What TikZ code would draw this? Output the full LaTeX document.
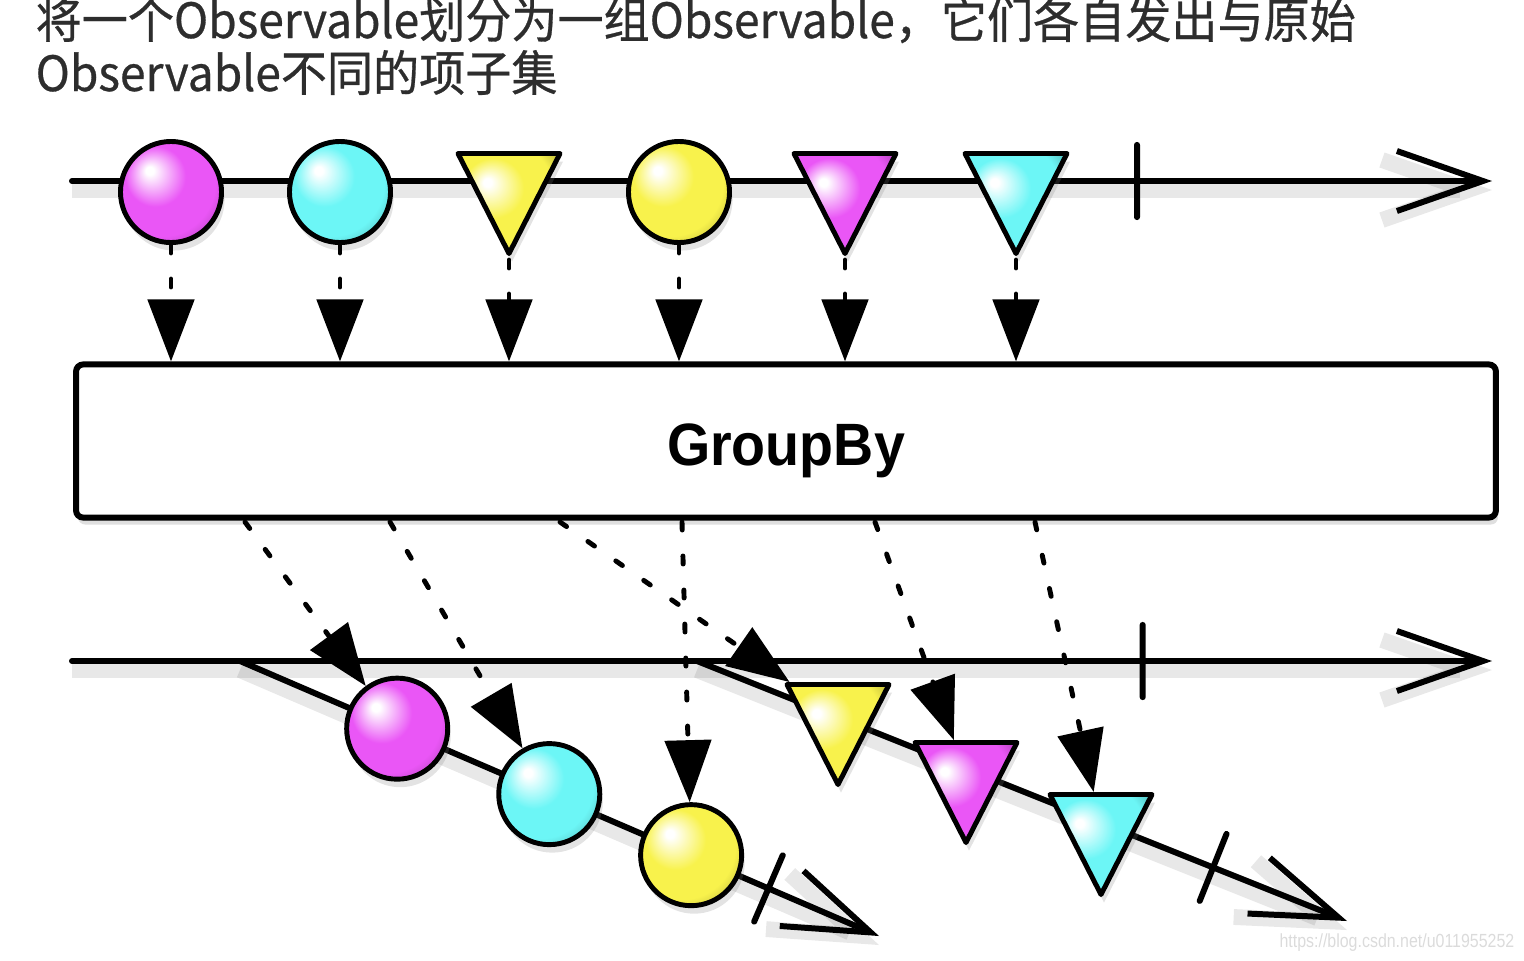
\documentclass[tikz,border=0pt]{standalone}
\usepackage{fontspec}
\newfontfamily\cjkfont[FakeBold=0.6]{Noto Sans CJK SC}
\newfontfamily\labelfont{Liberation Sans}
\usetikzlibrary{arrows.meta,shapes.geometric,shadows}

\definecolor{mgt}{RGB}{234,86,246}
\definecolor{cyn}{RGB}{108,246,246}
\definecolor{ylw}{RGB}{248,242,76}
\definecolor{titlegray}{RGB}{45,45,45}
\colorlet{mcol}{white}
\pgfdeclareradialshading[mcol]{marble}{\pgfpoint{-11bp}{11bp}}{color(0bp)=(white); color(2bp)=(white); color(15bp)=(mcol); color(27bp)=(mcol); color(38bp)=(mcol!68!black); color(50bp)=(mcol!55!black)}

\begin{document}
\begin{tikzpicture}[x=0.01cm, y=-0.01cm,
    marble/.style={draw, line width=1.4pt, inner sep=0pt, /utils/exec={\colorlet{mcol}{#1}}, shading=marble,
      drop shadow={opacity=.22, shadow xshift=.03cm, shadow yshift=-.08cm}},
    ball/.style={marble=#1, circle, minimum size=1.01cm},
    tri/.style={marble=#1, isosceles triangle, isosceles triangle stretches, shape border rotate=-90,
      minimum width=1.02cm, minimum height=1cm, line join=round, anchor=apex},
    timeline/.style={line width=1.7pt, line cap=round, -{Straight Barb[length=0.86cm,width=0.6cm]},
      preaction={draw=black, opacity=.09, line width=4.5pt, transform canvas={yshift=-.09cm}}},
    endmark/.style={fill=black, minimum width=1.7pt, minimum height=0.78cm, inner sep=0pt, sloped, rounded corners=.8pt},
    flow/.style={line width=1.4pt, line cap=round, dash pattern=on 0.08cm off 0.26cm, -{Triangle[length=0.62cm,width=0.46cm]}},
    box/.style={draw, line width=1.7pt, rounded corners=2pt, fill=white, minimum width=14.19cm, minimum height=1.53cm,
      text height=0.5cm, text depth=0.02cm, font=\labelfont\bfseries\fontsize{17pt}{20pt}\selectfont,
      drop shadow={opacity=.25, shadow xshift=.02cm, shadow yshift=-.07cm}},
    title/.style={font=\cjkfont\fontsize{13.8pt}{16pt}\selectfont, text=titlegray, inner sep=0pt, anchor=base west}]
  \useasboundingbox (0,0) rectangle (1524,960);

  \node[title] (title1) at (35,38) {\scalebox{.95}[1]{将一个Observable划分为一组Observable，它们各自发出与原始}};
  \node[title] (title2) at (35,91) {\scalebox{.95}[1]{Observable不同的项子集}};

  \coordinate (in0) at (72,181);
  \coordinate (in1) at (1492,181);
  \draw[timeline] (in0) -- (in1) node[endmark, pos=.75] (inend) {};

  \node[ball=mgt] (a1) at (171,192) {};
  \node[ball=cyn] (a2) at (340,192) {};
  \node[tri=ylw] (a3) at (509,260) {};
  \node[ball=ylw] (a4) at (679,192) {};
  \node[tri=mgt] (a5) at (845,260) {};
  \node[tri=cyn] (a6) at (1016,260) {};

  \node[box] (box) at (786,441) {\scalebox{.93}[1]{GroupBy}};

  \draw[flow] (a1) -- (a1 |- box.north);
  \draw[flow] (a2) -- (a2 |- box.north);
  \draw[flow] (a3) -- (a3 |- box.north);
  \draw[flow] (a4) -- (a4 |- box.north);
  \draw[flow] (a5) -- (a5 |- box.north);
  \draw[flow] (a6) -- (a6 |- box.north);

  \coordinate (out0) at (72,661);
  \coordinate (out1) at (1492,661);
  \draw[timeline] (out0) -- (out1) node[endmark, pos=.754] (outend) {};

  \coordinate (g1s) at (240,661);
  \coordinate (g1e) at (879,936);
  \draw[timeline] (g1s) -- (g1e) node[endmark, pos=.827] (g1end) {};
  \path (g1s) -- (g1e)
    node[ball=mgt, pos=.246] (b1) {}
    node[ball=cyn, pos=.484] (b2) {}
    node[ball=ylw, pos=.706] (b3) {};

  \coordinate (g2s) at (697,661);
  \coordinate (g2e) at (1347,921);
  \draw[timeline] (g2s) -- (g2e) node[endmark, pos=.794] (g2end) {};
  \node[tri=ylw] (b4) at (838,791) {};
  \node[tri=mgt] (b5) at (966,849) {};
  \node[tri=cyn] (b6) at (1101,901) {};

  \coordinate (s1) at (245,522);
  \coordinate (s2) at (390,522);
  \coordinate (s3) at (682,522);
  \coordinate (s4) at (560,522);
  \coordinate (s5) at (875,522);
  \coordinate (s6) at (1035,522);
  \draw[flow] (s1) -- (b1);
  \draw[flow] (s2) -- (b2);
  \draw[flow] (s3) -- (b3);
  \draw[flow] (s4) -- (b4);
  \draw[flow] (s5) -- (b5);
  \draw[flow] (s6) -- (b6);

  \node[anchor=base east, inner sep=0pt, text=black!14, font=\labelfont\fontsize{5.4pt}{6pt}\selectfont] (mark) at (1515,947) {\scalebox{.84}[1]{https://blog.csdn.net/u011955252}};
\end{tikzpicture}
\end{document}
